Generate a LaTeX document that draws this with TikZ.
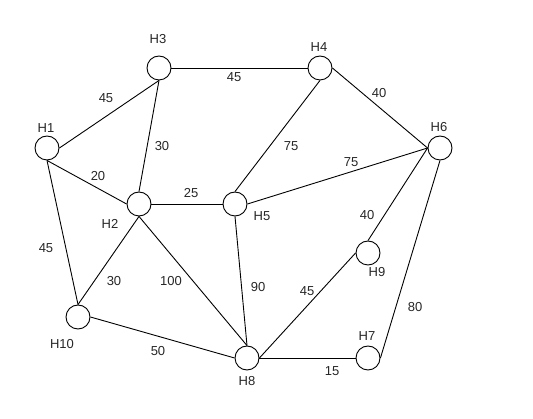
\documentclass[tikz,border=0pt]{standalone}
\usepackage{fontspec}
\setmainfont{Liberation Sans}
\begin{document}
\begin{tikzpicture}[x=1pt,y=-1pt,
  hnode/.style={circle,draw=black,line width=0.9pt,minimum size=24pt,inner sep=0pt},
  lbl/.style={font=\fontsize{13}{15}\selectfont,text=black!85,inner sep=0pt},
  edge/.style={draw=black,line width=0.9pt}]
\useasboundingbox (0,0) rectangle (533,419);
% nodes
\node[hnode] (H1) at (47,148) {};
\node[hnode] (H2) at (139,204) {};
\node[hnode] (H3) at (159,68) {};
\node[hnode] (H4) at (320,68) {};
\node[hnode] (H5) at (235,204) {};
\node[hnode] (H6) at (440,148) {};
\node[hnode] (H7) at (368,358) {};
\node[hnode] (H8) at (247,358) {};
\node[hnode] (H9) at (368,253) {};
\node[hnode] (H10) at (78,317) {};
% node labels
\node[lbl] (tH1) at (46,128) {H1};
\node[lbl] (tH2) at (110,224) {H2};
\node[lbl] (tH3) at (158,39) {H3};
\node[lbl] (tH4) at (319,47) {H4};
\node[lbl] (tH5) at (262,216) {H5};
\node[lbl] (tH6) at (439,127) {H6};
\node[lbl] (tH7) at (367,336) {H7};
\node[lbl] (tH8) at (247,381) {H8};
\node[lbl] (tH9) at (377,272) {H9};
\node[lbl] (tH10) at (62,344) {H10};
% edges
\draw[edge] (H1.east) -- (H3.south);
\draw[edge] (H3.east) -- (H4.west);
\draw[edge] (H3.south) -- (H2.north);
\draw[edge] (H1.south) -- (H2.west);
\draw[edge] (H1.south) -- (H10.north);
\draw[edge] (H2.east) -- (H5.west);
\draw[edge] (H4.south) -- (H5.north);
\draw[edge] (H5.east) -- (H6.west);
\draw[edge] (H4.east) -- (H6.west);
\draw[edge] (H6.west) -- (H9.north);
\draw[edge] (H6.south) -- (H7.east);
\draw[edge] (H2.south) -- (H10.north);
\draw[edge] (H2.south) -- (H8.north);
\draw[edge] (H5.south) -- (H8.north);
\draw[edge] (H10.east) -- (H8.west);
\draw[edge] (H8.east) -- (H9.west);
\draw[edge] (H8.east) -- (H7.west);
% weights
\node[lbl] (w13) at (106,98) {45};
\node[lbl] (w34) at (234,77) {45};
\node[lbl] (w32) at (162,146) {30};
\node[lbl] (w12) at (98,176) {20};
\node[lbl] (w25) at (191,193) {25};
\node[lbl] (w46) at (379,93) {40};
\node[lbl] (w45) at (291,146) {75};
\node[lbl] (w56) at (351,162) {75};
\node[lbl] (w69) at (367,215) {40};
\node[lbl] (w110) at (46,248) {45};
\node[lbl] (w210) at (114,281) {30};
\node[lbl] (w28) at (171,281) {100};
\node[lbl] (w58) at (258,287) {90};
\node[lbl] (w108) at (158,351) {50};
\node[lbl] (w89) at (307,291) {45};
\node[lbl] (w67) at (415,307) {80};
\node[lbl] (w87) at (332,371) {15};
\end{tikzpicture}
\end{document}
